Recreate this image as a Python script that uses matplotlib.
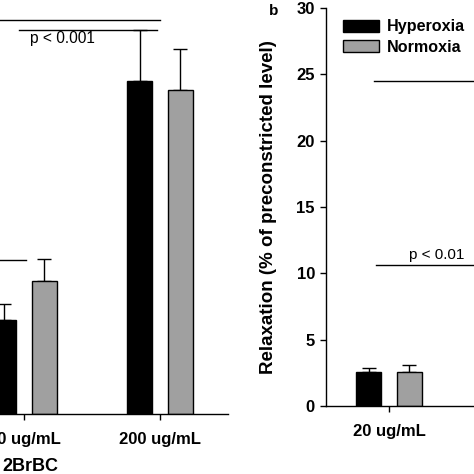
import numpy as np
import matplotlib
matplotlib.use("Agg")
import matplotlib.pyplot as plt
from matplotlib.patches import Patch

plt.rcParams["font.family"] = ["Liberation Sans", "DejaVu Sans"]
plt.rcParams["font.weight"] = "bold"

groups = ["20 ug/mL", "200 ug/mL"]
series = ["Hyperoxia", "Normoxia"]
colors = ["#000000", "#a0a0a0"]

# panel a (left axis cut off in the reference)
a_means = [[9.3, 32.8], [13.1, 31.9]]
a_errs = [[1.5, 5.0], [2.2, 4.1]]

# panel b
b_means = [[2.55, 0.0], [2.55, 0.0]]
b_errs = [[0.3, 0.0], [0.55, 0.0]]

W, H = 474, 474
fig = plt.figure(figsize=(4.74, 4.74), dpi=100)

def px_axes(left, bottom, right, top):
    return fig.add_axes([left / W, (H - bottom) / H, (right - left) / W, (bottom - top) / H])

ax_a = px_axes(-39, 414, 228, 8)
ax_b = px_axes(326, 406, 593, 8)

x = np.arange(len(groups))
width = 0.184
offs = [-0.15, 0.15]

def draw(ax, means, errs):
    for i in range(2):
        m = np.array(means[i])
        e = np.array(errs[i])
        keep = m > 0
        ax.bar(x[keep] + offs[i], m[keep], width, color=colors[i], edgecolor="black", linewidth=1, zorder=2)
        ax.errorbar(x[keep] + offs[i], m[keep], yerr=[np.zeros(keep.sum()), e[keep]],
                    fmt="none", ecolor="black", elinewidth=1, capsize=5, capthick=1, zorder=1)
    ax.set_xlim(-0.463, 1.5)
    ax.set_xticks(x)
    ax.set_xticklabels(groups, fontsize=12, fontweight="bold")
    ax.spines["top"].set_visible(False)
    ax.spines["right"].set_visible(False)
    ax.tick_params(axis="x", length=4, width=1, pad=9)
    for s in ax.spines.values():
        s.set_linewidth(1)

draw(ax_a, a_means, a_errs)
ax_a.set_ylim(0, 40)
ax_a.set_yticks([])
ax_a.spines["left"].set_visible(False)
ax_a.set_xlabel("2BrBC", fontsize=13, fontweight="bold", x=0.364, ha="right", labelpad=8)
ax_a.plot([-0.5, 1.0], [38.8, 38.8], color="black", lw=1, clip_on=False)
ax_a.plot([-0.04, 0.978], [37.8, 37.8], color="black", lw=1, clip_on=False)
ax_a.plot([-0.5, 0.015], [15.2, 15.2], color="black", lw=1, clip_on=False)
ax_a.text(0.28, 37.0, "p < 0.001", fontsize=11.2, fontweight="normal", ha="center", va="center")

draw(ax_b, b_means, b_errs)
ax_b.set_ylim(0, 30)
ax_b.set_yticks([0, 5, 10, 15, 20, 25, 30])
ax_b.tick_params(axis="y", length=4, width=1, labelsize=12, pad=4)
for t in ax_b.get_yticklabels():
    t.set_fontweight("bold")
ax_b.set_ylabel("Relaxation (% of preconstricted level)", fontsize=13.5, fontweight="bold")
ax_b.yaxis.set_label_coords((277 - 326) / 267, 0.5)
ax_b.plot([-0.11, 1.3], [24.5, 24.5], color="black", lw=1, clip_on=False)
ax_b.plot([-0.096, 1.3], [10.6, 10.6], color="black", lw=1, clip_on=False)
ax_b.text(0.35, 10.85, "p < 0.01", fontsize=11, fontweight="normal", ha="center", va="bottom")
fig.text(274 / W, (H - 11) / H, "b", fontsize=11, fontweight="bold", ha="center", va="center")

handles = [Patch(facecolor=c, edgecolor="black", linewidth=1) for c in colors]
ax_b.legend(handles, series, loc="upper left", bbox_to_anchor=(0.02, 1.0), frameon=False,
            fontsize=11.6, handlelength=2.25, handleheight=0.75, labelspacing=0.35,
            handletextpad=0.5, borderaxespad=0.3)

fig.savefig("out.png", dpi=100)
